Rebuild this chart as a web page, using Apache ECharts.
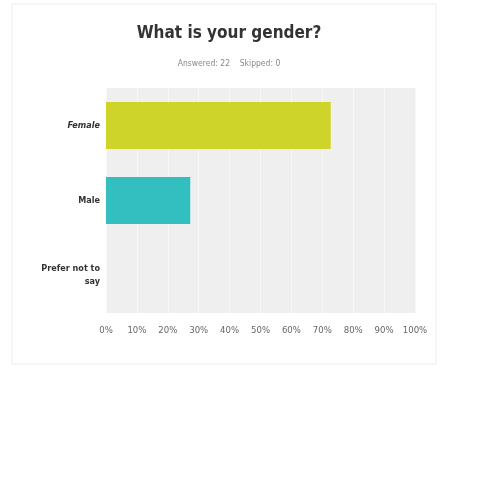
<!DOCTYPE html>
<html><head><meta charset="utf-8">
<script src="https://cdn.jsdelivr.net/npm/echarts@6/dist/echarts.min.js"></script>
<style>html,body{margin:0;padding:0;background:#fff}#c{width:480px;height:480px}</style>
</head><body><div id="c"></div>
<script>
var categories = ['Female', 'Male', 'Prefer not to\nsay'];
var values = [72.73, 27.27, 0];
var barColors = ['#cfd42a', '#33bec0', '#cccccc'];
var tickLabels = ['0%','10%','20%','30%','40%','50%','60%','70%','80%','90%','100%'];
var titleText = 'What is your gender?';
var subText = 'Answered: 22    Skipped: 0';

var FONT = '"DejaVu Sans Condensed","Liberation Sans Narrow",sans-serif';
var chart = echarts.init(document.getElementById('c'));
chart.setOption({
  animation: false,
  backgroundColor: '#fff',
  graphic: [{
    type: 'rect', shape: {x: 12, y: 4, width: 424, height: 360},
    style: {fill: 'none', stroke: '#ececec', lineWidth: 1}, silent: true, z: -1
  }],
  title: {
    text: titleText, subtext: subText, left: 224, textAlign: 'center', top: 20, itemGap: 17,
    textStyle: {fontFamily: FONT, fontSize: 17, fontWeight: 'bold', color: '#333'},
    subtextStyle: {fontFamily: FONT, fontSize: 8.5, color: '#888'}
  },
  grid: {left: 106, right: 65, top: 88, bottom: 167, show: true, backgroundColor: '#efefef', borderWidth: 0},
  xAxis: {
    type: 'value', min: 0, max: 100, interval: 10,
    axisLine: {show: false}, axisTick: {show: false},
    splitLine: {show: true, lineStyle: {color: '#f7f7f7', width: 1}},
    axisLabel: {margin: 13, fontFamily: FONT, fontSize: 9.5, color: '#666',
      formatter: function(v){ return tickLabels[Math.round(v/10)]; }}
  },
  yAxis: {
    type: 'category', data: categories, inverse: true,
    axisLine: {show: false}, axisTick: {show: false},
    axisLabel: {margin: 6, fontFamily: FONT, fontSize: 9, color: '#333', fontWeight: 'bold', lineHeight: 13,
      formatter: function(v){ return v === 'Female' ? '{i|' + v + '}' : v; },
      rich: {i: {fontStyle: 'italic', fontFamily: FONT, fontSize: 9, color: '#333', fontWeight: 'bold'}}}
  },
  series: [{
    type: 'bar', barWidth: 47,
    data: values.map(function(v, i){ return {value: v, itemStyle: {color: barColors[i]}}; })
  }]
});
</script></body></html>
